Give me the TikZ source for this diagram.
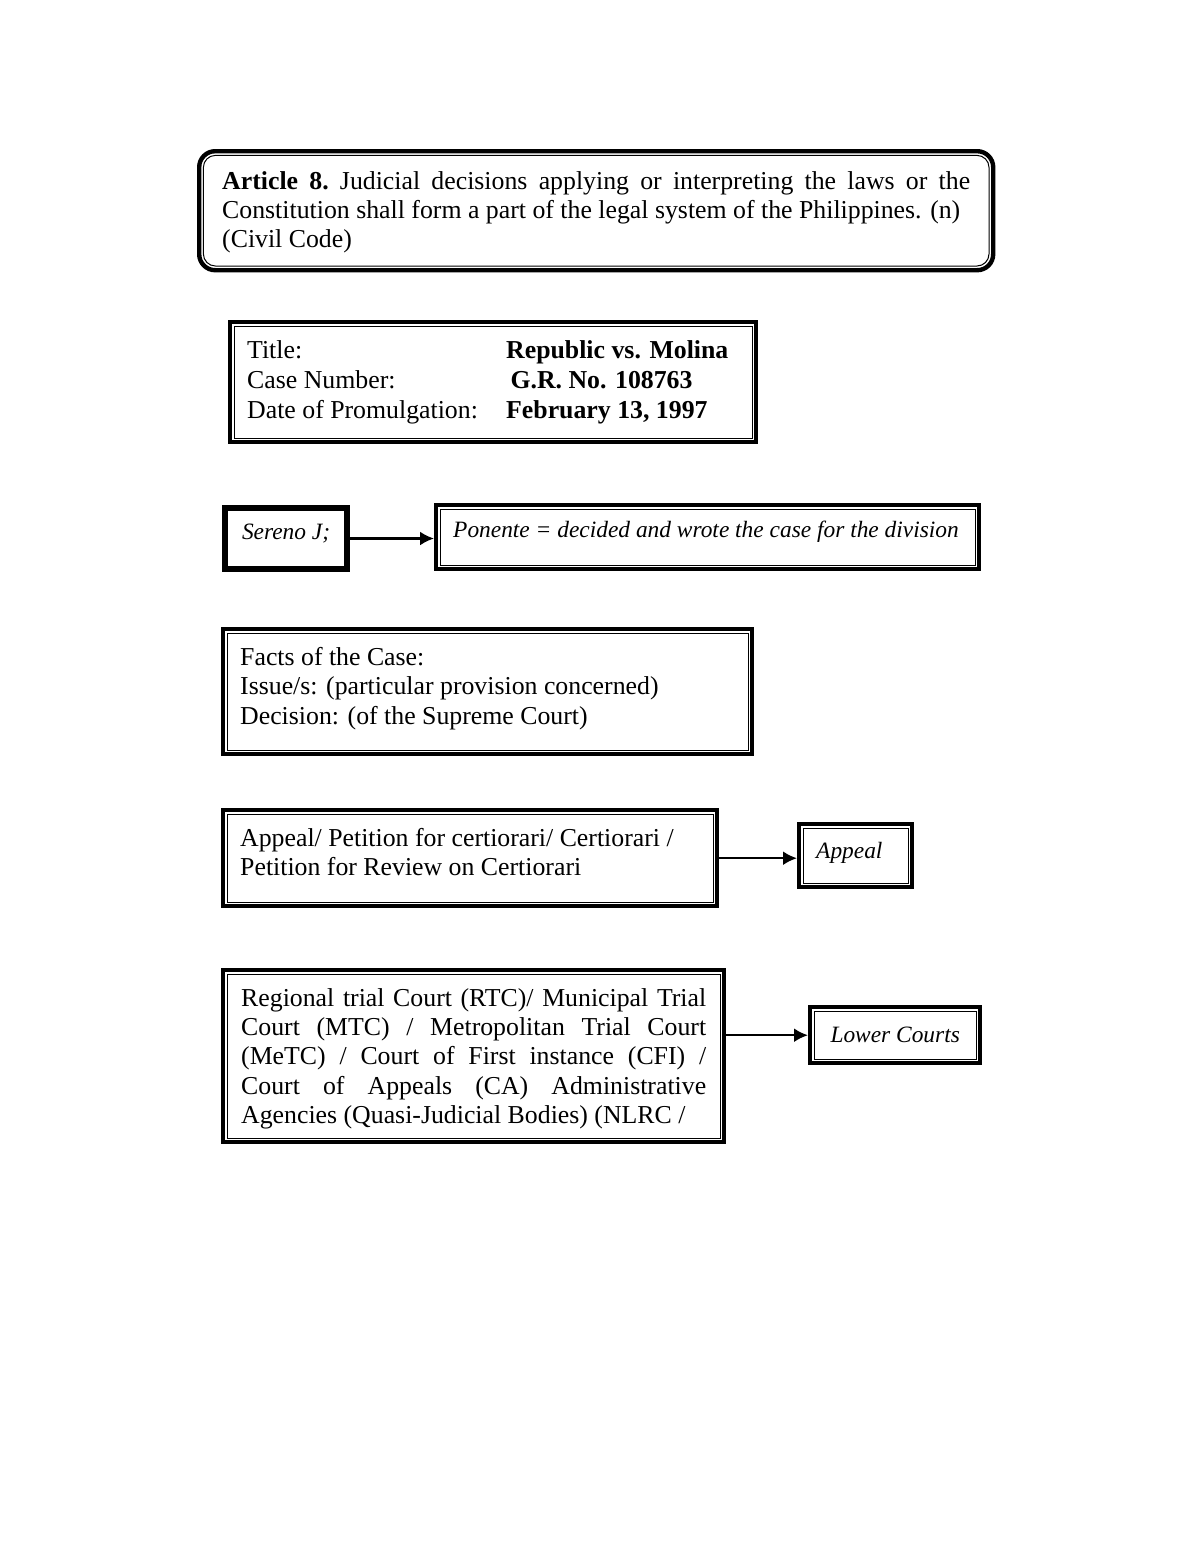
\documentclass[tikz,border=0pt]{standalone}
\usepackage{fontspec}
\setmainfont{Liberation Serif}
\usetikzlibrary{arrows.meta}

\tikzset{
  caja/.style={draw, line width=2.2pt, anchor=north west, inner xsep=8.5pt, inner ysep=9pt,
    font=\fontsize{12.9}{14.7}\selectfont},
  cursiva/.style={font=\fontsize{11.7}{14}\selectfont\itshape},
  flecha/.style={-{Latex[length=7pt,width=7pt]}, line width=1.2pt}
}
% linea fina interior de cada marco
\newcommand{\lineainterior}[1]{%
  \draw[line width=0.5pt] ([shift={(3.2pt,-3.2pt)}]#1.north west) rectangle ([shift={(-3.2pt,3.2pt)}]#1.south east);}

\begin{document}
\begin{tikzpicture}[x=0.5pt,y=-0.5pt]
        \useasboundingbox (0,0) rectangle (1200,1553);

        % Articulo
        \node[caja, rounded corners=8pt, inner xsep=11.5pt, inner ysep=10pt] (articulo) at (197,149)
          {\parbox[t][39.5pt][t]{374pt}{\textbf{Article 8.}\ Judicial decisions applying or interpreting the laws or the\linebreak
           Constitution shall form a part of the legal system of the Philippines. (n)\\ (Civil Code)}};
        \draw[line width=0.5pt, rounded corners=6pt] ([shift={(3.2pt,-3.2pt)}]articulo.north west) rectangle ([shift={(-3.2pt,3.2pt)}]articulo.south east);

        % Datos del caso
        \node[caja] (titulo) at (228,320)
          {\parbox[t][42pt][t]{246pt}{\fontsize{12.9}{15}\selectfont
           \makebox[129.5pt][l]{Title:}\textbf{Republic vs. Molina}\\
           \makebox[129.5pt][l]{Case Number:}\,\textbf{G.R. No. 108763}\\
           \makebox[129.5pt][l]{Date of Promulgation:}\textbf{February 13, 1997}}};

        % Ponente
        \node[caja, cursiva, line width=3pt, inner ysep=8pt] (sereno) at (222,505)
          {\parbox[t][14.5pt][t]{44pt}{\mbox{Sereno J;}}};
        \node[caja, cursiva, inner ysep=8pt] (ponente) at (434,503)
          {\parbox[t][16pt][t]{254.5pt}{\mbox{Ponente = decided and wrote the case for the division}}};

        % Hechos
        \node[caja] (hechos) at (221,627)
          {\parbox[t][44.5pt][t]{247.5pt}{\raggedright Facts of the Case:\\
           Issue/s: (particular provision concerned)\\
           Decision: (of the Supreme Court)}};

        % Apelacion
        \node[caja] (apelacion) at (221,808)
          {\parbox[t][30pt][t]{230pt}{\raggedright Appeal/ Petition for certiorari/ Certiorari /\\
           Petition for Review on Certiorari}};
        \node[caja, cursiva] (apelcorto) at (797,822)
          {\parbox[t][13.5pt][t]{39.5pt}{\mbox{Appeal}}};

        % Tribunales inferiores
        \node[caja, inner xsep=9pt] (tribunales) at (221,968)
          {\parbox[t][68pt][t]{232.5pt}{Regional trial Court (RTC)/ Municipal Trial\linebreak
           Court (MTC) / Metropolitan Trial Court\linebreak
           (MeTC) / Court of First instance (CFI) /\linebreak
           Court of Appeals (CA) Administrative\linebreak
           Agencies (Quasi-Judicial Bodies) (NLRC /}};
        \node[caja, cursiva, inner xsep=8.5pt] (inferiores) at (808,1005)
          {\parbox[c][10pt][c]{68pt}{\centering\mbox{Lower Courts}}};

        \foreach \n in {titulo,ponente,hechos,apelacion,apelcorto,tribunales,inferiores}
          \lineainterior{\n};

        % flechas
        \draw[flecha] (sereno.east) -- (sereno.east -| ponente.west);
        \draw[flecha] (apelacion.east) -- (apelacion.east -| apelcorto.west);
        \draw[flecha] (tribunales.east |- inferiores.west) -- (inferiores.west);
    \end{tikzpicture}
\end{document}
